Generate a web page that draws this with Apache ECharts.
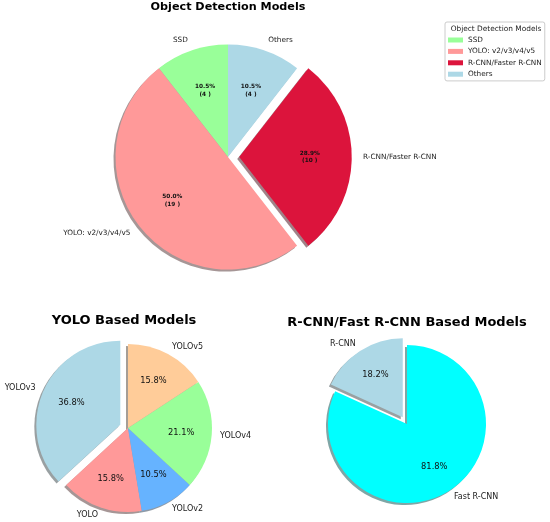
<!DOCTYPE html>
<html><head><meta charset="utf-8">
<script src="https://cdn.jsdelivr.net/npm/echarts@6/dist/echarts.min.js"></script>
<style>html,body{margin:0;padding:0;background:#fff}#c{width:550px;height:522px}</style>
</head><body><div id="c"></div>
<script>
// ---- data ----
const odCategories = ['SSD', 'YOLO: v2/v3/v4/v5', 'R-CNN/Faster R-CNN', 'Others'];
const odValues = [4, 19, 11, 4];
const yoloCategories = ['YOLOv3', 'YOLO', 'YOLOv2', 'YOLOv4', 'YOLOv5'];
const yoloValues = [7, 3, 2, 4, 3];
const rcnnCategories = ['R-CNN', 'Fast R-CNN'];
const rcnnValues = [2, 9];

// ---- styling ----
const odColors = ['#99ff99', '#ff9999', '#dc143c', '#add8e6'];
const yoloColors = ['#add8e6', '#ff9999', '#66b3ff', '#99ff99', '#ffcc99'];
const rcnnColors = ['#add8e6', '#00ffff'];
const odExplode = [false, false, true, false];
const yoloExplode = [true, false, false, false, false];
const rcnnExplode = [true, false];

const FONT = 'DejaVu Sans';

function shadowColor(hex) {
  const n = parseInt(hex.slice(1), 16);
  const r = (n >> 16) & 255, g = (n >> 8) & 255, b = n & 255;
  return 'rgba(' + Math.round(r * 0.3) + ',' + Math.round(g * 0.3) + ',' + Math.round(b * 0.3) + ',0.5)';
}

function buildPie(cfg) {
  const total = cfg.values.reduce((a, b) => a + b, 0);
  const r = cfg.r;
  const common = {
    type: 'pie', startAngle: 90, clockwise: false, animation: false,
    selectedMode: 'multiple', selectedOffset: 0.1 * r,
    avoidLabelOverlap: false, emphasis: { disabled: true }
  };
  const main = Object.assign({}, common, {
    z: 2, center: [cfg.cx, cfg.cy], radius: r,
    label: { show: true, position: 'outside', fontFamily: FONT, fontSize: cfg.labelSize,
      color: '#222', distanceToLabelLine: 0, formatter: '{b}' },
    labelLine: { show: false, length: 0.1 * r, length2: 0 },
    data: cfg.names.map((n, i) => ({ name: n, value: cfg.values[i], selected: cfg.explode[i],
      itemStyle: { color: cfg.colors[i] } }))
  });
  const shadow = Object.assign({}, common, {
    z: 1, silent: true, center: [cfg.cx - 2, cfg.cy + 2], radius: r,
    label: { show: false }, labelLine: { show: false },
    data: cfg.names.map((n, i) => ({ name: n, value: cfg.values[i], selected: cfg.explode[i],
      itemStyle: { color: shadowColor(cfg.colors[i]) } }))
  });
  const overlay = Object.assign({}, common, {
    z: 3, silent: true, center: [cfg.cx, cfg.cy], radius: [0.2 * r, r],
    label: { show: true, position: 'inside', fontFamily: FONT, fontSize: cfg.pctSize,
      fontWeight: cfg.pctWeight, color: '#111', lineHeight: cfg.pctLine, textBorderWidth: 0,
      formatter: function (p) {
        const v = cfg.values[p.dataIndex];
        // matplotlib computes fractions in float32
        const frac = Math.fround(Math.fround(v) / Math.fround(total));
        const pct = 100 * frac;
        let s = pct.toFixed(1) + '%';
        if (cfg.showCount) s += '\n(' + Math.trunc(pct / 100 * total) + ' )';
        return s;
      } },
    labelLine: { show: false },
    itemStyle: { color: 'rgba(0,0,0,0)' },
    data: cfg.names.map((n, i) => ({ name: n, value: cfg.values[i], selected: cfg.explode[i] }))
  });
  return [main, shadow, overlay];
}

const series = [].concat(
  buildPie({ names: odCategories, values: odValues, colors: odColors, explode: odExplode,
    cx: 228, cy: 157, r: 112.5, labelSize: 7.3, pctSize: 5.8, pctWeight: 'bold', pctLine: 7.7, showCount: true }),
  buildPie({ names: yoloCategories, values: yoloValues, colors: yoloColors, explode: yoloExplode,
    cx: 128, cy: 428, r: 84, labelSize: 8, pctSize: 8.3, pctWeight: 'normal', pctLine: 10, showCount: false }),
  buildPie({ names: rcnnCategories, values: rcnnValues, colors: rcnnColors, explode: rcnnExplode,
    cx: 407, cy: 424, r: 79, labelSize: 8, pctSize: 8.3, pctWeight: 'normal', pctLine: 10, showCount: false })
);

const chart = echarts.init(document.getElementById('c'), null, { renderer: 'canvas' });
chart.setOption({
  backgroundColor: '#fff',
  title: [
    { text: 'Object Detection Models', left: 228, top: 1.5, textAlign: 'center', padding: 0,
      textStyle: { fontFamily: FONT, fontWeight: 'bold', fontSize: 11.2, color: '#000' } },
    { text: 'Object Detection Models', left: 496, top: 26, textAlign: 'center', padding: 0,
      textStyle: { fontFamily: FONT, fontWeight: 'normal', fontSize: 7.4, color: '#222' } },
    { text: 'YOLO Based Models', left: 124, top: 314, textAlign: 'center', padding: 0,
      textStyle: { fontFamily: FONT, fontWeight: 'bold', fontSize: 13, color: '#000' } },
    { text: 'R-CNN/Fast R-CNN Based Models', left: 407, top: 316, textAlign: 'center', padding: 0,
      textStyle: { fontFamily: FONT, fontWeight: 'bold', fontSize: 13, color: '#000' } }
  ],
  legend: {
    data: odCategories, orient: 'vertical', left: 445, top: 22,
    padding: [13.3, 3, 2, 3], itemGap: 2, itemWidth: 15, itemHeight: 5, icon: 'rect',
    borderColor: '#cccccc', borderWidth: 1, borderRadius: 2,
    textStyle: { fontFamily: FONT, fontSize: 7.3, color: '#222', lineHeight: 9.4 }
  },
  series: series
});
</script>
</body></html>
